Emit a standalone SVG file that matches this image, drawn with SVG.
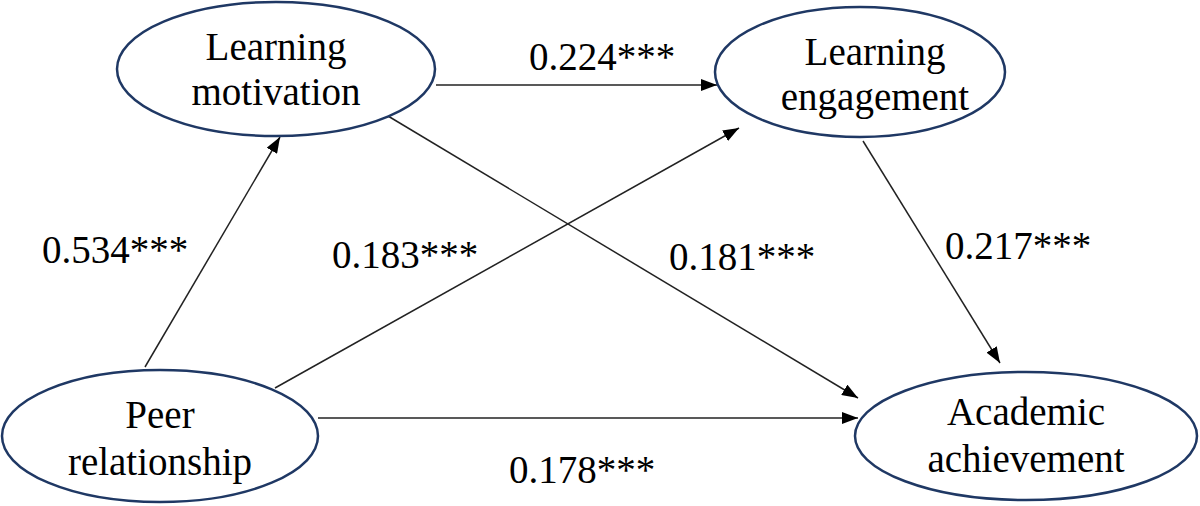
<svg xmlns="http://www.w3.org/2000/svg" width="1200" height="506" viewBox="0 0 1200 506">
<defs>
<marker id="arr" markerUnits="userSpaceOnUse" markerWidth="16" markerHeight="12" viewBox="0 0 16 12" refX="16" refY="6" orient="auto">
<path d="M0,0 L16,6 L0,12 Z" fill="#000"/>
</marker>
</defs>
<style>
.node ellipse{fill:#fff;stroke:#1f3864;stroke-width:2.5}
.node text,.lbl{font-family:"Liberation Serif","Times New Roman",serif;font-size:39px;fill:#000;text-anchor:middle}
.edge{stroke:#222;stroke-width:1.5;fill:none;marker-end:url(#arr)}
</style>
<rect width="1200" height="506" fill="#fff"/>
<g id="connectors">
<line class="edge" x1="436" y1="85" x2="717" y2="85"/>
<line class="edge" x1="388" y1="116" x2="858" y2="398"/>
<line class="edge" x1="145" y1="367" x2="280" y2="137"/>
<line class="edge" x1="275" y1="388" x2="739" y2="128"/>
<line class="edge" x1="318" y1="418" x2="858" y2="418"/>
<line class="edge" x1="863" y1="141" x2="1000" y2="363"/>
</g>
<g id="labels">
<text class="lbl" x="115" y="263">0.534***</text>
<text class="lbl" x="602" y="70">0.224***</text>
<text class="lbl" x="1018" y="259">0.217***</text>
<text class="lbl" x="582" y="483">0.178***</text>
<text class="lbl" x="405" y="268">0.183***</text>
<text class="lbl" x="742" y="270">0.181***</text>
</g>
<g id="learning-motivation" class="node">
<ellipse cx="276" cy="69" rx="159" ry="67"/>
<text x="276" y="60">Learning</text>
<text x="276" y="105">motivation</text>
</g>
<g id="learning-engagement" class="node">
<ellipse cx="860" cy="72" rx="145" ry="65"/>
<text x="875" y="65">Learning</text>
<text x="875" y="110">engagement</text>
</g>
<g id="peer-relationship" class="node">
<ellipse cx="160" cy="436" rx="158" ry="66"/>
<text x="160" y="428">Peer</text>
<text x="160" y="475">relationship</text>
</g>
<g id="academic-achievement" class="node">
<ellipse cx="1026" cy="436" rx="171" ry="64"/>
<text x="1026" y="425">Academic</text>
<text x="1026" y="472">achievement</text>
</g>
</svg>
